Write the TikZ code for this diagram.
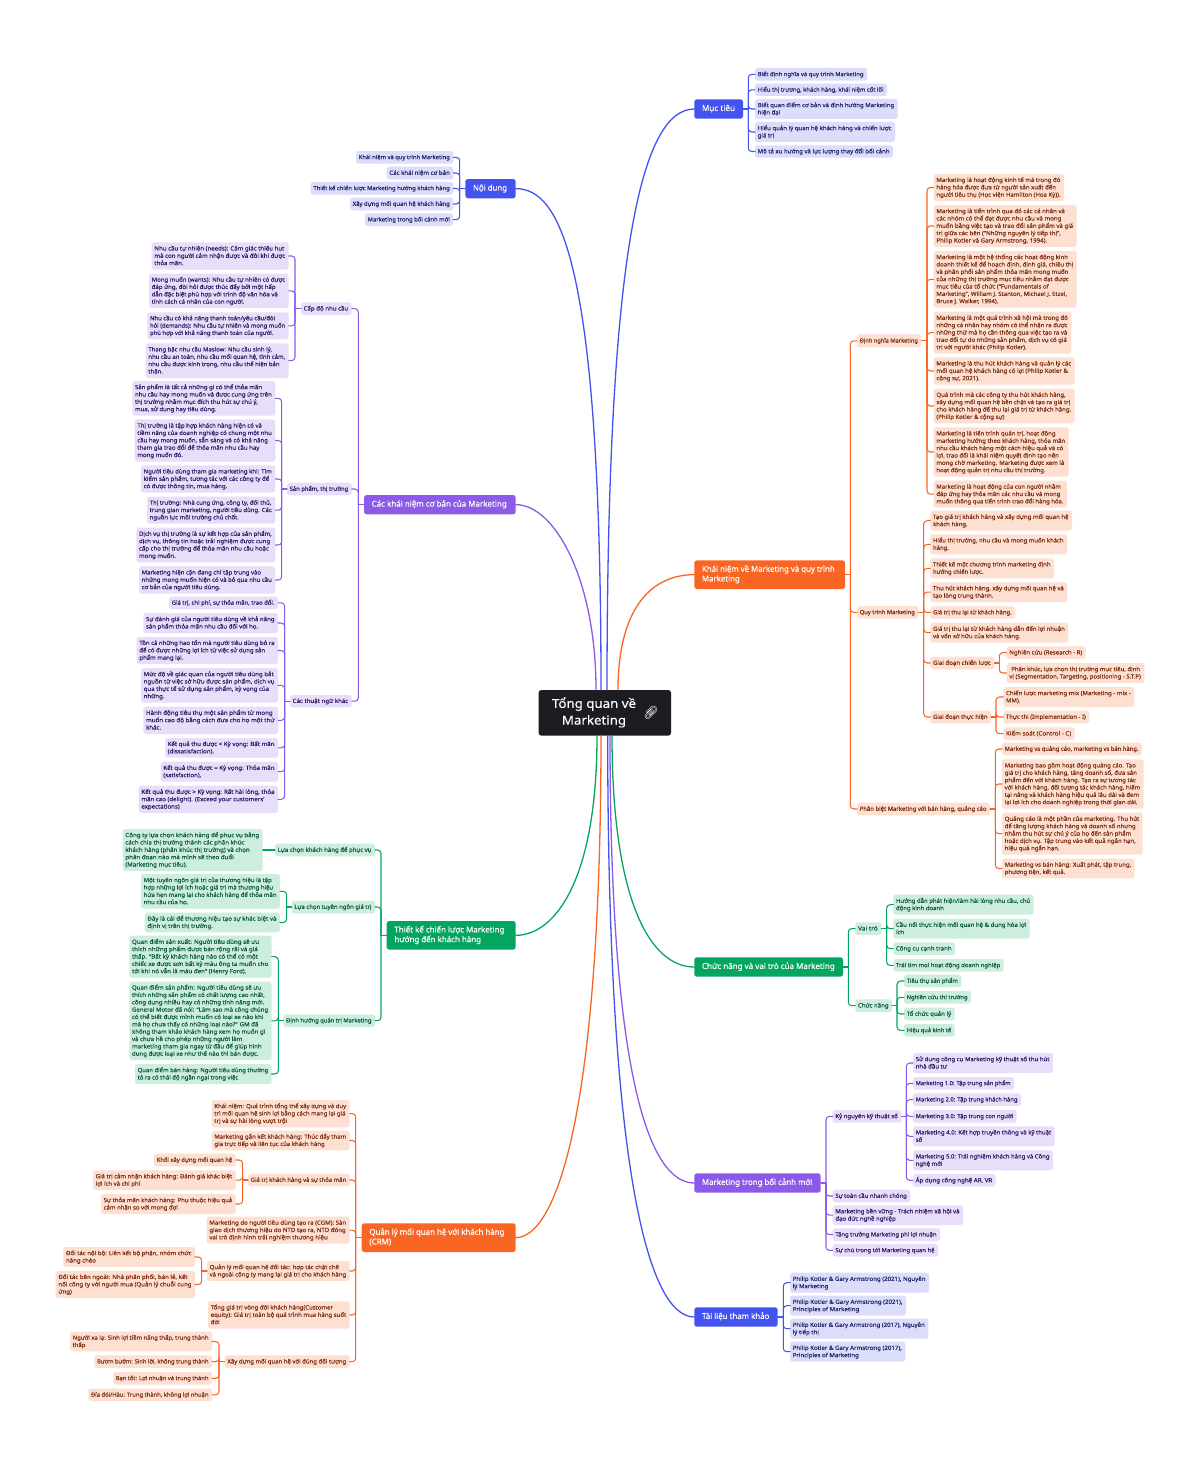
\documentclass[tikz,border=0pt]{standalone}
\usepackage{fontspec}
\usepackage{graphicx}
\setmainfont{Noto Sans}
\newfontfamily\lffont[FakeBold=0.08]{Noto Sans}
\newfontfamily\mnfont[FakeBold=0.25]{Noto Sans}
\newfontfamily\emojifont{Noto Emoji}
\definecolor{bM}{HTML}{4353EF}\definecolor{bL}{HTML}{DBDDFB}\definecolor{bT}{HTML}{1F2568}
\definecolor{pM}{HTML}{8C5AE8}\definecolor{pL}{HTML}{E8DEFA}\definecolor{pT}{HTML}{2F1B63}
\definecolor{oM}{HTML}{F96623}\definecolor{oL}{HTML}{FEE0D3}\definecolor{oT}{HTML}{7A2E10}
\definecolor{gM}{HTML}{04A65F}\definecolor{gL}{HTML}{CDEEDF}\definecolor{gT}{HTML}{0B5A3A}
\definecolor{rootc}{HTML}{1C1C22}
\tikzset{
 lfbox/.style={rectangle,rounded corners=2.6pt,inner sep=0pt,outer sep=0pt,font=\lffont\fontsize{5.7}{7.35}\selectfont},
 mnbox/.style={rectangle,rounded corners=2.6pt,inner sep=0pt,outer sep=0pt,text=white,font=\mnfont\fontsize{8}{9.7}\selectfont},
 bl/.style={fill=bL,text=bT},pl/.style={fill=pL,text=pT},ol/.style={fill=oL,text=oT},gl/.style={fill=gL,text=gT},
 bm/.style={fill=bM},pm/.style={fill=pM},om/.style={fill=oM},gm/.style={fill=gM},
 conn/.style={line width=1.05pt,line cap=round},
 trunk/.style={line width=1.3pt,line cap=round}
}
% leaf: style, name, x1,y1,x2,y2, text
\newcommand\lf[7]{%
 \pgfmathsetmacro\bw{#5-#3}\pgfmathsetmacro\bh{#6-#4}\pgfmathsetmacro\tw{#5-#3-6.2}%
 \node[lfbox,#1,minimum width=\bw pt,minimum height=\bh pt,anchor=north west] (#2) at (#3,#4)
  {\hspace*{-0.8pt}\smash{\raisebox{-0.3pt}{\resizebox{\tw pt}{\height}{\begin{tabular}{@{}l@{}}#7\end{tabular}}}}\vphantom{x}};}
% main branch: style, name, x1,y1,x2,y2, textwidth, text
\newcommand\mn[8]{%
 \pgfmathsetmacro\bw{#5-#3}\pgfmathsetmacro\bh{#6-#4}%
 \node[mnbox,#1,minimum width=\bw pt,minimum height=\bh pt,anchor=north west] (#2) at (#3,#4)
  {\makebox[\bw pt][l]{\hspace{7.7pt}\raisebox{-1.2pt}{\resizebox{#7pt}{\height}{\begin{tabular}{@{}l@{}}#8\end{tabular}}}}};}
% connectors: colour, parent, bus x, children ; R = children right of parent, L = left
\newcommand\cR[4]{%
 \coordinate (bus) at (#3,0);
 \draw[conn,#1] (#2.east) -- (#2.east -| bus);
 \foreach \c in {#4} {\draw[conn,#1,rounded corners=3.4pt] (#2.east -| bus) -- (\c.west -| bus) -- (\c.west);}}
\newcommand\cL[4]{%
 \coordinate (bus) at (#3,0);
 \draw[conn,#1] (#2.west) -- (#2.west -| bus);
 \foreach \c in {#4} {\draw[conn,#1,rounded corners=3.4pt] (#2.west -| bus) -- (\c.east -| bus) -- (\c.east);}}
\begin{document}
\begin{tikzpicture}[x=1pt,y=-1pt]
\useasboundingbox (0,0) rectangle (1200,1469);
\fill[white] (0,0) rectangle (1200,1469);
% ROOT
\node[rectangle,rounded corners=2.8pt,fill=rootc,text=white,inner sep=0pt,outer sep=0pt,anchor=north west,minimum width=132.3pt,minimum height=45.7pt,font=\lffont\fontsize{12.3}{16.7}\selectfont] (root) at (538.7,690)
 {\makebox[132.3pt][l]{\hspace{13.3pt}\raisebox{-0.6pt}{\resizebox{84pt}{\height}{\begin{tabular}{@{}c@{}}Tổng quan về\\Marketing\end{tabular}}}}};
\node[text=white,inner sep=0pt,rotate=90,font=\emojifont\fontsize{12}{12}\selectfont] (clip) at (651,713) {📎};
% ---- Mục tiêu
\mn{bm}{mt}{694.3}{99.3}{743}{118.7}{33}{Mục tiêu}
\lf{bl}{a1}{755}{68}{867}{80.7}{Biết định nghĩa và quy trình Marketing}
\lf{bl}{a2}{755}{83.7}{887}{96}{Hiểu thị trương, khách hàng, khái niệm cốt lõi}
\lf{bl}{a3}{755}{99}{897.7}{119}{Biết quan điểm cơ bản và định hướng Marketing\\hiện đại}
\lf{bl}{a4}{755}{122}{895}{142}{Hiểu quản lý quan hệ khách hàng và chiến lược\\giá trị}
\lf{bl}{a5}{755}{145.3}{893}{157.7}{Mô tả xu hướng và lực lượng thay đổi bối cảnh}
\cR{bM}{mt}{748.3}{a1,a2,a3,a4,a5}
% ---- Khái niệm
\mn{om}{kn}{694.3}{560.3}{845}{589}{132.7}{Khái niệm về Marketing và quy trình\\Marketing}
\lf{ol}{dn}{857}{334.3}{921.3}{347.3}{Định nghĩa Marketing}
\lf{ol}{d1}{933.7}{174}{1064}{201}{Marketing là hoạt động kinh tế mà trong đó\\hàng hóa được đưa từ người sản xuất đến\\người tiêu thụ (Học viện Hamilton (Hoa Kỳ)).}
\lf{ol}{d2}{933.7}{205}{1076.7}{247}{Marketing là tiến trình qua đó các cá nhân và\\các nhóm có thể đạt được nhu cầu và mong\\muốn bằng việc tạo và trao đổi sản phẩm và giá\\trị giữa các bên (“Những nguyên lý tiếp thị”,\\Philip Kotler và Gary Armstrong, 1994).}
\lf{ol}{d3}{933.7}{251}{1076.7}{307.7}{Marketing là một hệ thống các hoạt động kinh\\doanh thiết kế để hoạch định, định giá, chiêu thị\\và phân phối sản phẩm thỏa mãn mong muốn\\của những thị trường mục tiêu nhằm đạt được\\mục tiêu của tổ chức (“Fundamentals of\\Marketing”, William J. Stanton, Michael J. Etzel,\\Bruce J. Walker, 1994).}
\lf{ol}{d4}{933.7}{311.7}{1071.3}{353.7}{Marketing là một quá trình xã hội mà trong đó\\những cá nhân hay nhóm có thể nhận ra được\\những thứ mà họ cần thông qua việc tạo ra và\\trao đổi tự do những sản phẩm, dịch vụ có giá\\trị với người khác (Philip Kotler).}
\lf{ol}{d5}{933.7}{357.3}{1074.7}{384.7}{Marketing là thu hút khách hàng và quản lý các\\mối quan hệ khách hàng có lợi (Philip Kotler \&\\cộng sự, 2021).}
\lf{ol}{d6}{933.7}{388.7}{1074.7}{423.3}{Quá trình mà các công ty thu hút khách hàng,\\xây dựng mối quan hệ bền chặt và tạo ra giá trị\\cho khách hàng để thu lại giá trị từ khách hàng.\\(Philip Kotler \& cộng sự)}
\lf{ol}{d7}{933.7}{427.3}{1068.7}{476.7}{Marketing là tiến trình quản trị, hoạt động\\marketing hướng theo khách hàng, thỏa mãn\\nhu cầu khách hàng một cách hiệu quả và có\\lợi, trao đổi là khái niệm quyết định tạo nên\\mong chờ marketing. Marketing được xem là\\hoạt động quản trị nhu cầu thị trường.}
\lf{ol}{d8}{933.7}{480.7}{1067}{507.7}{Marketing là hoạt động của con người nhằm\\đáp ứng hay thỏa mãn các nhu cầu và mong\\muốn thông qua tiến trình trao đổi hàng hóa.}
\cR{oM}{dn}{927}{d1,d2,d3,d4,d5,d6,d7,d8}
\lf{ol}{qt}{857}{606}{918.3}{618.7}{Quy trình Marketing}
\lf{ol}{q1}{930.3}{510.7}{1072}{530.7}{Tạo giá trị khách hàng và xây dựng mối quan hệ\\khách hàng.}
\lf{ol}{q2}{930.3}{534.3}{1067}{554.3}{Hiểu thị trường, nhu cầu và mong muốn khách\\hàng.}
\lf{ol}{q3}{930.3}{558.3}{1054}{578.3}{Thiết kế một chương trình marketing định\\hướng chiến lược.}
\lf{ol}{q4}{930.3}{582.3}{1067.3}{602}{Thu hút khách hàng, xây dựng mối quan hệ và\\tạo lòng trung thành.}
\lf{ol}{q5}{930.3}{606.3}{1015.3}{618.7}{Giá trị thu lại từ khách hàng.}
\lf{ol}{q6}{930.3}{622.7}{1068.3}{642.7}{Giá trị thu lại từ khách hàng dẫn đến lợi nhuận\\và vốn sở hữu của khách hàng.}
\lf{ol}{gc}{930.3}{656.7}{994.3}{669.3}{Giai đoạn chiến lược}
\lf{ol}{gt}{930.3}{710.7}{991}{723.3}{Giai đoạn thực hiện}
\cR{oM}{qt}{923.7}{q1,q2,q3,q4,q5,q6,gc,gt}
\lf{ol}{r1}{1006.7}{646.3}{1085.7}{659}{Nghiên cứu (Research - R)}
\lf{ol}{r2}{1006.7}{663}{1144.3}{683}{\hspace*{1.8pt}Phân khúc, lựa chọn thị trường mục tiêu, định\\vị (Segmentation, Targeting, positioning - S.T.P)}
\cR{oM}{gc}{999.3}{r1,r2}
\lf{ol}{m1}{1003.3}{687}{1134.3}{707}{Chiến lược marketing mix (Marketing - mix -\\MM).}
\lf{ol}{m2}{1003.3}{710.7}{1089.3}{723.3}{Thực thi (Implementation - I)}
\lf{ol}{m3}{1003.3}{727.3}{1074.7}{740}{Kiểm soát (Control - C)}
\cR{oM}{gt}{996}{m1,m2,m3}
\lf{ol}{pb}{857}{802.7}{990}{815.3}{Phân biệt Marketing với bán hàng, quảng cáo}
\lf{ol}{p1}{1002}{742.7}{1142}{755.3}{Marketing vs quảng cáo, marketing vs bán hàng.}
\lf{ol}{p2}{1002}{759.3}{1143.7}{808.7}{Marketing bao gồm hoạt động quảng cáo. Tạo\\giá trị cho khách hàng, tăng doanh số, đưa sản\\phẩm đến với khách hàng. Tạo ra sự tương tác\\với khách hàng, đối tượng tác khách hàng, hiếm\\tại nâng và khách hàng hiệu quả lâu dài và đem\\lại lợi ích cho doanh nghiệp trong thời gian dài.}
\lf{ol}{p3}{1002}{812.7}{1142.7}{854.7}{Quảng cáo là một phần của marketing. Thu hút\\để tăng lượng khách hàng và doanh số nhưng\\nhằm thu hút sự chú ý của họ đến sản phẩm\\hoặc dịch vụ. Tập trung vào kết quả ngắn hạn,\\hiệu quả ngắn hạn.}
\lf{ol}{p4}{1002}{858.7}{1134.7}{878.3}{Marketing vs bán hàng: Xuất phát, tập trung,\\phương tiện, kết quả.}
\cR{oM}{pb}{995.3}{p1,p2,p3,p4}
\cR{oM}{kn}{850.3}{dn,qt,pb}
% ---- Chức năng và vai trò
\mn{gm}{cn}{694.3}{957.3}{843}{976.7}{132.7}{Chức năng và vai trò của Marketing}
\lf{gl}{vt}{855.3}{922.3}{881.3}{935}{Vai trò}
\lf{gl}{v1}{893.3}{894.7}{1033.7}{914.7}{Hướng dẫn phát hiện/làm hài lòng nhu cầu, chủ\\động kinh doanh}
\lf{gl}{v2}{893.3}{918.7}{1029.7}{938.7}{Cầu nối thực hiện mối quan hệ \& dung hòa lợi\\ích}
\lf{gl}{v3}{893.3}{942.3}{955}{955}{Công cụ cạnh tranh}
\lf{gl}{v4}{893.3}{959}{1003.7}{971.7}{Trái tim mọi hoạt động doanh nghiệp}
\cR{gM}{vt}{886.7}{v1,v2,v3,v4}
\lf{gl}{cg}{855.3}{999.3}{892}{1012}{Chức năng}
\lf{gl}{f1}{904}{974.7}{961.3}{987.3}{Tiêu thụ sản phẩm}
\lf{gl}{f2}{904}{991}{971}{1003.7}{Nghiên cứu thị trường}
\lf{gl}{f3}{904}{1007.7}{954.7}{1020.3}{Tổ chức quản lý}
\lf{gl}{f4}{904}{1024}{954.7}{1036.7}{Hiệu quả kinh tế}
\cR{gM}{cg}{897}{f1,f2,f3,f4}
\cR{gM}{cn}{848.3}{vt,cg}
% ---- Marketing trong bối cảnh mới
\mn{pm}{mk}{694.3}{1173.3}{820.7}{1192.7}{110.3}{Marketing trong bối cảnh mới}
\lf{pl}{ky}{832.7}{1110}{901.3}{1122.7}{Kỷ nguyên kỹ thuật số}
\lf{pl}{k1}{913}{1053}{1053}{1073}{Sử dụng công cụ Marketing kỹ thuật số thu hút\\nhà đầu tư}
\lf{pl}{k2}{913}{1077}{1014}{1089.7}{Marketing 1.0: Tập trung sản phẩm}
\lf{pl}{k3}{913}{1093.3}{1021}{1106}{Marketing 2.0: Tập trung khách hàng}
\lf{pl}{k4}{913}{1110}{1016.7}{1122.7}{Marketing 3.0: Tập trung con người}
\lf{pl}{k5}{913}{1126.3}{1054.7}{1146.3}{Marketing 4.0: Kết hợp truyền thông và kỹ thuật\\số}
\lf{pl}{k6}{913}{1150.3}{1053}{1170.3}{Marketing 5.0: Trải nghiệm khách hàng và Công\\nghệ mới}
\lf{pl}{k7}{913}{1174}{995.7}{1186.7}{Áp dụng công nghệ AR, VR}
\cR{pM}{ky}{906.3}{k1,k2,k3,k4,k5,k6,k7}
\lf{pl}{t1}{832.7}{1189.7}{910.3}{1202.3}{Sự toàn cầu nhanh chóng}
\lf{pl}{t2}{832.7}{1205.3}{963}{1225}{Marketing bền vững - Trách nhiệm xã hội và\\đạo đức nghề nghiệp}
\lf{pl}{t3}{832.7}{1228.3}{940}{1241}{Tăng trưởng Marketing phi lợi nhuận}
\lf{pl}{t4}{832.7}{1244}{938}{1256.7}{Sự chú trọng tới Marketing quan hệ}
\cR{pM}{mk}{826}{ky,t1,t2,t3,t4}
% ---- Tài liệu
\mn{bm}{tl}{694.3}{1307.3}{777.7}{1326.7}{67.3}{Tài liệu tham khảo}
\lf{bl}{l1}{790}{1272.7}{929}{1292.7}{Philip Kotler \& Gary Armstrong (2021), Nguyên\\lý Marketing}
\lf{bl}{l2}{790}{1295.7}{906}{1315.7}{Philip Kotler \& Gary Armstrong (2021),\\Principles of Marketing}
\lf{bl}{l3}{790}{1318.7}{928.3}{1338.7}{Philip Kotler \& Gary Armstrong (2017), Nguyên\\lý tiếp thị}
\lf{bl}{l4}{790}{1341.7}{905.3}{1361.7}{Philip Kotler \& Gary Armstrong (2017),\\Principles of Marketing}
\cR{bM}{tl}{783.3}{l1,l2,l3,l4}
% ---- Nội dung
\mn{bm}{nd}{465.3}{179}{515.7}{198.3}{34}{Nội dung}
\lf{bl}{n1}{356}{151}{453.3}{163.7}{Khái niệm và quy trình Marketing}
\lf{bl}{n2}{386.7}{166.7}{453.3}{179.3}{Các khái niệm cơ bản}
\lf{bl}{n3}{310.7}{182}{453.3}{194.7}{Thiết kế chiến lược Marketing hướng khách hàng}
\lf{bl}{n4}{350}{197.7}{453.3}{210.3}{Xây dựng mối quan hệ khách hàng}
\lf{bl}{n5}{365}{213.3}{453.3}{226}{Marketing trong bối cảnh mới}
\cL{bM}{nd}{459.7}{n1,n2,n3,n4,n5}
% ---- Các khái niệm
\mn{pm}{ck}{364}{495}{515.7}{514.3}{135}{Các khái niệm cơ bản của Marketing}
\lf{pl}{cd}{301}{302.3}{351.7}{315}{Cấp độ nhu cầu}
\lf{pl}{c1}{151.7}{242.3}{288.7}{269.7}{Nhu cầu tự nhiên (needs): Cảm giác thiếu hụt\\mà con người cảm nhận được và đôi khi được\\thỏa mãn.}
\lf{pl}{c2}{149}{273.7}{288.7}{308}{Mong muốn (wants): Nhu cầu tự nhiên có được\\đáp ứng, đòi hỏi được thúc đẩy bởi một hấp\\dẫn đặc biệt phù hợp với trình độ văn hóa và\\tính cách cá nhân của con người.}
\lf{pl}{c3}{147.3}{312.3}{288.7}{339.3}{Nhu cầu có khả năng thanh toán/yêu cầu/đòi\\hỏi (demands): Nhu cầu tự nhiên và mong muốn\\phù hợp với khả năng thanh toán của người.}
\lf{pl}{c4}{145.7}{343.3}{288.7}{378}{Thang bậc nhu cầu Maslow: Nhu cầu sinh lý,\\nhu cầu an toàn, nhu cầu mối quan hệ, tình cảm,\\nhu cầu được kính trọng, nhu cầu thể hiện bản\\thân.}
\cL{pM}{cd}{295}{c1,c2,c3,c4}
\lf{pl}{sp}{287}{482.7}{351.7}{495.3}{Sản phẩm, thị trường}
\lf{pl}{s1}{132.3}{381}{275.3}{415.7}{Sản phẩm là tất cả những gì có thể thỏa mãn\\nhu cầu hay mong muốn và được cung ứng trên\\thị trường nhằm mục đích thu hút sự chú ý,\\mua, sử dụng hay tiêu dùng.}
\lf{pl}{s2}{134.7}{419.3}{275.3}{461.7}{Thị trường là tập hợp khách hàng hiện có và\\tiềm năng của doanh nghiệp có chung một nhu\\cầu hay mong muốn, sẵn sàng và có khả năng\\tham gia trao đổi để thỏa mãn nhu cầu hay\\mong muốn đó.}
\lf{pl}{s3}{141}{465.3}{275.3}{492.7}{Người tiêu dùng tham gia marketing khi: Tìm\\kiếm sản phẩm, tương tác với các công ty để\\có được thông tin, mua hàng.}
\lf{pl}{s4}{147}{496.7}{275.3}{523.7}{Thị trường: Nhà cung ứng, công ty, đối thủ,\\trung gian marketing, người tiêu dùng. Các\\nguồn lực môi trường chủ chốt.}
\lf{pl}{s5}{136.3}{527.7}{275.3}{562.3}{Dịch vụ thị trường là sự kết hợp của sản phẩm,\\dịch vụ, thông tin hoặc trải nghiệm được cung\\cấp cho thị trường để thỏa mãn nhu cầu hoặc\\mong muốn.}
\lf{pl}{s6}{139}{566.3}{275.3}{593.7}{Marketing hiện cận đang chỉ tập trung vào\\những mong muốn hiện có và bỏ qua nhu cầu\\cơ bản của người tiêu dùng.}
\cL{pM}{sp}{281.7}{s1,s2,s3,s4,s5,s6}
\lf{pl}{ct}{290}{695}{351.7}{707.3}{Các thuật ngữ khác}
\lf{pl}{o1}{169}{596.7}{278}{609}{Giá trị, chi phí, sự thỏa mãn, trao đổi.}
\lf{pl}{o2}{143.3}{613}{278}{633}{Sự đánh giá của người tiêu dùng về khả năng\\sản phẩm thỏa mãn nhu cầu đối với họ.}
\lf{pl}{o3}{136.7}{637}{278}{664}{Tồn cả những hao tổn mà người tiêu dùng bỏ ra\\để có được những lợi ích từ việc sử dụng sản\\phẩm mang lại.}
\lf{pl}{o4}{141}{668}{278}{702.7}{Mức độ về giác quan của người tiêu dùng bắt\\nguồn từ việc sở hữu được sản phẩm, dịch vụ\\qua thực tế sử dụng sản phẩm, kỳ vọng của\\những.}
\lf{pl}{o5}{143.3}{706.7}{278}{734}{Hành động tiêu thụ một sản phẩm từ mong\\muốn cao độ bằng cách đưa cho họ một thứ\\khác.}
\lf{pl}{o6}{165}{738}{278}{757.7}{Kết quả thu được < Kỳ vọng: Bất mãn\\(dissatisfaction).}
\lf{pl}{o7}{160.7}{761.7}{278}{781.7}{Kết quả thu được = Kỳ vọng: Thỏa mãn\\(satisfaction).}
\lf{pl}{o8}{138.7}{785.7}{278}{813}{Kết quả thu được > Kỳ vọng: Rất hài lòng, thỏa\\mãn cao (delight). (Exceed your customers’\\expectations)}
\cL{pM}{ct}{284.7}{o1,o2,o3,o4,o5,o6,o7,o8}
\cL{pM}{ck}{358.3}{cd,sp,ct}
% ---- Thiết kế
\mn{gm}{tk}{386.7}{921}{515.7}{949.7}{110}{Thiết kế chiến lược Marketing\\hướng đến khách hàng}
\lf{gl}{lc}{275}{843.7}{375}{856.3}{Lựa chọn khách hàng để phục vụ}
\lf{gl}{g1}{122.7}{829}{262.7}{871}{Công ty lựa chọn khách hàng để phục vụ bằng\\cách chia thị trường thành các phân khúc\\khách hàng (phân khúc thị trường) và chọn\\phân đoạn nào mà mình sẽ theo đuổi\\(Marketing mục tiêu).}
\draw[conn,gM] (lc.west) -- (g1.east);
\lf{gl}{ln}{291.7}{900.7}{375}{913.3}{Lựa chọn tuyên ngôn giá trị}
\lf{gl}{h1}{141}{874}{280}{908.7}{Một tuyên ngôn giá trị của thương hiệu là tập\\hợp những lợi ích hoặc giá trị mà thương hiệu\\hứa hẹn mang lại cho khách hàng để thỏa mãn\\nhu cầu của họ.}
\lf{gl}{h2}{144.7}{912.7}{280}{932.3}{Đây là cái để thương hiệu tạo sự khác biệt và\\định vị trên thị trường.}
\cL{gM}{ln}{286.7}{h1,h2}
\lf{gl}{dh}{283.3}{1014.3}{375}{1027}{Định hướng quản trị Marketing}
\lf{gl}{j1}{129.3}{935.7}{271.7}{977.7}{Quan điểm sản xuất: Người tiêu dùng sẽ ưu\\thích những phẩm được bán rộng rãi và giá\\thấp. “Bất kỳ khách hàng nào có thể có một\\chiếc xe được sơn bất kỳ màu ông ta muốn cho\\tới khi nó vẫn là màu đen” (Henry Ford).}
\lf{gl}{j2}{129.3}{981.7}{271.7}{1060}{Quan điểm sản phẩm: Người tiêu dùng sẽ ưu\\thích những sản phẩm có chất lượng cao nhất,\\công dụng nhiều hay có những tính năng mới.\\General Motor đã nói: “Làm sao mà công chúng\\có thể biết được mình muốn có loại xe nào khi\\mà họ chưa thấy có những loại nào?” GM đã\\không tham khảo khách hàng xem họ muốn gì\\và chưa hề cho phép những người làm\\marketing tham gia ngay từ đầu để giúp hình\\dung được loại xe như thế nào thì bán được.}
\lf{gl}{j3}{135}{1064}{271.7}{1084}{Quan điểm bán hàng: Người tiêu dùng thường\\tỏ ra có thái độ ngần ngại trong việc}
\cL{gM}{dh}{278.3}{j1,j2,j3}
\cL{gM}{tk}{381}{lc,ln,dh}
% ---- Quản lý
\mn{om}{ql}{361.7}{1223.3}{515.7}{1252}{135}{Quản lý mối quan hệ với khách hàng\\(CRM)}
\lf{ol}{u1}{211.7}{1100}{349.7}{1127.3}{Khái niệm: Quá trình tổng thể xây dựng và duy\\trì mối quan hệ sinh lợi bằng cách mang lại giá\\trị và sự hài lòng vượt trội}
\lf{ol}{u2}{211.7}{1130.7}{349.7}{1150.3}{Marketing gắn kết khách hàng: Thúc đẩy tham\\gia trực tiếp và liên tục của khách hàng}
\lf{ol}{u3}{248}{1173.7}{349.7}{1186.3}{Giá trị khách hàng và sự thỏa mãn}
\lf{ol}{ua}{154}{1153.7}{235.7}{1166.3}{Khối xây dựng mối quan hệ}
\lf{ol}{ub}{93}{1170.3}{235.7}{1190}{Giá trị cảm nhận khách hàng: Đánh giá khác biệt\\lợi ích và chi phí}
\lf{ol}{uc}{101}{1194}{235.7}{1214}{Sự thỏa mãn khách hàng: Phụ thuộc hiệu quả\\cảm nhận so với mong đợi}
\cL{oM}{u3}{242.7}{ua,ub,uc}
\lf{ol}{u4}{206.7}{1216.7}{349.7}{1243.7}{Marketing do người tiêu dùng tạo ra (CGM): Sàn\\giao dịch thương hiệu do NTD tạo ra, NTD đóng\\vai trò định hình trải nghiệm thương hiệu}
\lf{ol}{u5}{207}{1261}{349.7}{1281}{Quản lý mối quan hệ đối tác: hợp tác chặt chẽ\\và ngoài công ty mang lại giá trị cho khách hàng}
\lf{ol}{va}{63.3}{1247}{195}{1267}{Đối tác nội bộ: Liên kết bộ phận, nhóm chức\\năng chéo}
\lf{ol}{vb}{55.7}{1271}{195}{1298}{Đối tác bên ngoài: Nhà phân phối, bán lẻ, kết\\nối công ty với người mua (Quản lý chuỗi cung\\ứng)}
\cL{oM}{u5}{201.7}{va,vb}
\lf{ol}{u6}{208}{1301.3}{349.7}{1328.7}{Tổng giá trị vòng đời khách hàng(Customer\\equity): Giá trị toàn bộ quá trình mua hàng suốt\\đời}
\lf{ol}{u7}{224.7}{1355.3}{349.7}{1368}{Xây dựng mối quan hệ với đúng đối tượng}
\lf{ol}{wa}{70}{1331.7}{212}{1351.3}{Người xa lạ: Sinh lợi tiềm năng thấp, trung thành\\thấp}
\lf{ol}{wb}{94.3}{1355.3}{212}{1368}{Bươm bướm: Sinh lời, không trung thành}
\lf{ol}{wc}{113}{1372}{212}{1384.7}{Bạn tốt: Lợi nhuận và trung thành}
\lf{ol}{wd}{88.3}{1388.7}{212}{1401}{Đỉa đói/Hàu: Trung thành, không lợi nhuận}
\cL{oM}{u7}{219}{wa,wb,wc,wd}
\cL{oM}{ql}{355.7}{u1,u2,u3,u4,u5,u6,u7}
% ---- root connectors
\coordinate (s1) at (607,690);\coordinate (s2) at (601,690);\coordinate (s3) at (596,690);\coordinate (s4) at (618,690);
\coordinate (s5) at (612,735.7);\coordinate (s6) at (610,735.7);\coordinate (s7) at (607.7,735.7);\coordinate (s8) at (597,735.7);\coordinate (s9) at (601,735.7);
\draw[trunk,bM] (s1) .. controls (607,260) and (640,109) .. (mt.west);
\draw[trunk,bM] (s2) .. controls (601,260) and (560,188.6) .. (nd.east);
\draw[trunk,pM] (s3) .. controls (596,580) and (555,504.6) .. (ck.east);
\draw[trunk,oM] (s4) .. controls (618,610) and (650,574.7) .. (kn.west);
\draw[trunk,gM] (s5) .. controls (612,900) and (650,967) .. (cn.west);
\draw[trunk,pM] (s6) .. controls (610,1080) and (650,1183) .. (mk.west);
\draw[trunk,bM] (s7) .. controls (607.7,1180) and (650,1317) .. (tl.west);
\draw[trunk,gM] (s8) .. controls (597,880) and (555,935.3) .. (tk.east);
\draw[trunk,oM] (s9) .. controls (601,1120) and (555,1237.6) .. (ql.east);
\end{tikzpicture}
\end{document}
